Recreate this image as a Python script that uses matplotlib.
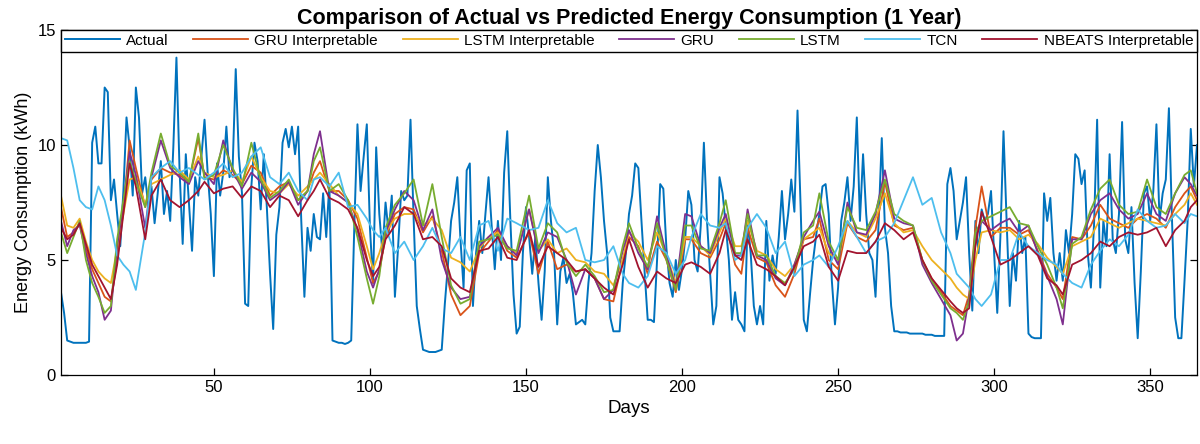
import numpy as np
import matplotlib.pyplot as plt

plt.rcParams['font.family'] = ['Liberation Sans', 'DejaVu Sans']

# daily measured consumption, days 1..365
days = np.arange(1, 366)
actual = [
    3.6, 2.7, 1.5, 1.45, 1.4, 1.4, 1.4, 1.4, 1.4, 1.45,
    10.1, 10.8, 9.2, 9.2, 12.5, 12.3, 7.6, 8.5, 7.0, 5.6,
    8.0, 11.2, 9.9, 7.8, 12.5, 11.2, 7.9, 8.6, 7.3, 8.2,
    6.6, 7.9, 9.3, 7.0, 8.0, 6.7, 9.9, 13.8, 8.9, 5.7,
    9.6, 7.5, 5.4, 8.6, 7.8, 9.5, 11.1, 8.8, 7.0, 4.3,
    9.2, 7.8, 8.8, 10.8, 8.6, 9.0, 13.3, 9.5, 7.9, 3.1,
    3.0, 8.2, 10.1, 9.3, 7.2, 9.6, 7.2, 4.4, 2.0, 6.1,
    7.3, 10.1, 10.7, 9.9, 10.8, 9.6, 10.8, 6.7, 3.4, 6.4,
    5.4, 7.0, 6.0, 5.9, 7.9, 6.0, 8.3, 1.5, 1.45, 1.4,
    1.4, 1.35, 1.4, 1.5, 6.5, 10.9, 8.0, 9.5, 10.9, 6.4,
    4.0, 9.9, 7.0, 5.3, 7.5, 6.2, 7.8, 3.4, 5.5, 8.0,
    7.6, 7.8, 11.1, 6.8, 3.0, 2.0, 1.1, 1.05, 1.0, 1.0,
    1.0, 1.05, 1.1, 3.1, 4.8, 6.7, 7.5, 8.6, 5.9, 3.8,
    8.9, 9.2, 3.0, 5.3, 6.7, 5.3, 7.0, 8.6, 6.5, 4.6,
    6.7, 5.0, 8.8, 10.6, 6.7, 3.5, 1.8, 2.1, 5.3, 7.3,
    6.0, 4.4, 6.0, 4.0, 2.4, 4.5, 8.6, 6.7, 5.3, 2.2,
    4.5, 5.1, 4.0, 4.4, 3.6, 2.2, 2.3, 2.4, 2.2, 4.0,
    5.3, 8.0, 10.0, 8.6, 6.7, 5.3, 2.5, 1.9, 1.9, 1.9,
    4.0, 5.3, 7.0, 7.8, 9.2, 9.0, 6.7, 4.5, 2.4, 2.4,
    2.3, 5.0, 8.3, 8.1, 5.5, 4.0, 3.4, 5.0, 3.7, 4.6,
    5.9, 8.0, 7.4, 5.0, 4.5, 6.5, 10.1, 6.7, 4.4, 2.2,
    3.0, 8.6, 7.9, 6.5, 5.0, 2.4, 3.6, 2.4, 2.2, 1.9,
    6.7, 5.3, 3.0, 2.2, 3.0, 2.2, 6.7, 4.1, 5.2, 4.4,
    6.0, 8.0, 5.9, 7.0, 8.5, 7.1, 11.5, 7.3, 2.4, 1.9,
    3.5, 5.0, 6.1, 7.0, 8.2, 8.3, 7.0, 4.1, 2.2, 3.8,
    6.7, 7.5, 8.6, 6.7, 8.2, 11.2, 6.7, 9.6, 7.0, 5.3,
    5.0, 3.4, 6.7, 10.3, 6.4, 5.3, 3.0, 1.9, 1.9, 1.85,
    1.85, 1.85, 1.8, 1.8, 1.8, 1.8, 1.8, 1.75, 1.75, 1.75,
    1.7, 1.7, 1.7, 1.7, 8.3, 9.0, 8.0, 5.9, 6.7, 7.5,
    8.6, 5.3, 2.8, 6.7, 5.3, 7.2, 6.7, 7.0, 8.0, 5.3,
    2.7, 6.0, 10.6, 6.7, 3.0, 5.3, 4.1, 6.7, 5.3, 6.0,
    1.8, 1.65, 1.6, 1.6, 1.6, 7.9, 6.7, 7.7, 5.3, 4.1,
    5.3, 4.1, 6.3, 5.3, 7.0, 9.6, 9.4, 8.3, 8.9, 5.3,
    3.8, 6.5, 11.1, 3.8, 6.7, 5.6, 9.6, 5.9, 5.3, 7.0,
    11.0, 5.9, 5.3, 7.3, 4.0, 1.6, 4.5, 7.9, 8.2, 6.7,
    8.0, 10.9, 6.7, 7.9, 8.5, 11.6, 6.7, 2.5, 1.6, 1.6,
    4.1, 6.7, 10.7, 8.2, 10.0,
]

pred_days = [
    1, 3, 5, 7, 9, 11, 13, 15, 17, 19,
    21, 23, 25, 28, 30, 33, 36, 39, 42, 45,
    47, 50, 53, 56, 59, 62, 65, 68, 71, 74,
    77, 80, 82, 84, 87, 90, 93, 96, 99, 101,
    103, 105, 108, 111, 114, 117, 120, 123, 126, 129,
    132, 135, 138, 141, 144, 147, 151, 154, 157, 160,
    163, 166, 169, 172, 175, 178, 181, 183, 186, 189,
    192, 195, 198, 201, 203, 206, 209, 212, 214, 217,
    219, 221, 224, 227, 230, 233, 236, 239, 242, 244,
    247, 250, 253, 256, 259, 262, 265, 268, 271, 274,
    277, 280, 283, 286, 288, 290, 292, 294, 296, 299,
    302, 305, 308, 311, 314, 317, 320, 322, 325, 328,
    331, 334, 337, 340, 343, 346, 349, 352, 355, 358,
    361, 363, 365,
]

gru_interp = [
    7.3, 6.0, 6.2, 6.6, 5.5, 4.6, 4.0, 3.4, 3.2, 5.0,
    7.2, 10.2, 9.0, 7.3, 8.5, 9.0, 8.8, 8.7, 8.4, 10.3,
    8.6, 8.5, 8.9, 8.7, 8.3, 9.1, 8.8, 7.8, 8.2, 8.4,
    7.6, 8.0, 8.8, 9.3, 8.0, 8.0, 7.6, 6.8, 5.1, 4.0,
    4.5, 6.0, 7.0, 7.3, 7.2, 6.2, 6.9, 5.4, 3.5, 2.6,
    3.0, 5.3, 5.8, 6.3, 5.4, 5.1, 6.2, 4.4, 5.8, 4.6,
    4.8, 4.5, 4.6, 4.2, 3.3, 3.2, 5.0, 6.0, 5.6, 4.4,
    5.8, 5.0, 3.6, 5.9, 5.9, 5.3, 5.1, 5.9, 6.6, 4.8,
    4.4, 6.4, 5.1, 4.9, 3.9, 3.4, 4.4, 5.9, 6.0, 6.8,
    5.0, 4.6, 6.6, 6.0, 5.8, 6.3, 8.4, 6.5, 6.3, 6.4,
    5.0, 4.2, 3.6, 3.0, 2.8, 2.6, 3.5, 6.4, 8.2, 6.0,
    6.4, 6.4, 6.1, 6.3, 5.4, 4.4, 3.8, 3.3, 6.0, 5.9,
    6.5, 7.4, 6.8, 6.6, 6.4, 6.8, 7.0, 6.8, 6.4, 7.3,
    7.9, 8.2, 7.6,
]

lstm_interp = [
    7.8, 6.5, 6.4, 6.8, 5.8, 5.0, 4.5, 4.2, 4.0, 5.5,
    7.0, 8.5, 8.6, 7.4, 8.3, 8.5, 8.7, 8.9, 8.5, 9.5,
    8.8, 8.6, 8.7, 8.9, 8.4, 9.5, 8.6, 8.0, 7.9, 8.3,
    7.8, 8.2, 8.5, 8.8, 8.3, 7.8, 7.5, 7.0, 5.6, 4.6,
    5.3, 6.2, 6.8, 7.0, 7.0, 6.5, 6.8, 6.3, 5.1, 4.9,
    4.5, 5.5, 6.0, 6.2, 5.6, 5.3, 7.2, 5.4, 5.9, 5.3,
    5.5, 5.0, 4.9, 4.5, 4.4, 3.9, 5.0, 6.2, 5.8, 5.0,
    6.2, 5.2, 4.0, 6.0, 6.0, 5.6, 5.2, 6.2, 6.8, 5.6,
    5.6, 6.7, 5.4, 5.2, 4.6, 4.3, 4.8, 5.9, 6.2, 6.4,
    5.3, 5.0, 6.7, 6.2, 6.0, 6.8, 7.9, 6.6, 6.2, 6.3,
    5.6, 5.0, 4.6, 4.2, 3.8, 3.5, 3.3, 5.0, 6.2, 6.3,
    6.2, 6.3, 5.9, 6.1, 5.7, 5.1, 4.7, 4.4, 5.6, 5.8,
    6.0, 6.8, 6.6, 6.4, 6.6, 6.8, 6.7, 6.6, 6.5, 7.0,
    7.4, 7.9, 7.4,
]

gru = [
    6.7, 5.6, 6.3, 6.5, 5.3, 4.3, 3.6, 2.4, 2.8, 5.6,
    7.4, 9.7, 8.7, 6.4, 8.6, 10.2, 9.0, 8.6, 8.3, 9.3,
    8.8, 8.3, 10.2, 8.9, 8.1, 8.8, 8.4, 7.6, 7.9, 8.4,
    7.4, 8.0, 9.6, 10.6, 8.0, 7.8, 7.5, 6.3, 4.5, 3.8,
    4.6, 6.2, 7.2, 8.0, 7.6, 6.3, 7.2, 5.0, 3.8, 3.3,
    3.4, 5.6, 6.0, 6.4, 5.6, 5.2, 7.2, 5.3, 6.2, 6.0,
    5.0, 3.5, 4.6, 4.2, 3.3, 3.7, 5.4, 6.3, 5.3, 4.6,
    6.9, 5.2, 3.8, 7.0, 6.9, 5.6, 5.3, 6.4, 7.0, 5.2,
    5.2, 7.2, 5.2, 5.0, 4.2, 3.9, 4.8, 6.0, 6.7, 7.1,
    5.6, 4.8, 7.5, 6.2, 6.1, 7.0, 8.9, 6.8, 6.6, 6.5,
    4.8, 4.0, 3.3, 2.6, 1.5, 1.8, 3.4, 6.0, 6.7, 6.3,
    6.6, 6.8, 6.2, 6.5, 5.3, 4.3, 3.3, 2.2, 5.9, 5.9,
    7.0, 7.6, 7.9, 7.2, 6.8, 7.0, 7.9, 7.0, 6.7, 7.9,
    8.6, 8.3, 7.8,
]

lstm = [
    6.2, 5.3, 6.0, 6.7, 5.0, 4.0, 3.4, 2.7, 3.0, 5.9,
    7.6, 9.3, 8.4, 7.3, 8.8, 10.5, 9.1, 8.8, 8.4, 10.5,
    8.5, 8.7, 10.0, 9.0, 8.2, 10.1, 8.5, 7.7, 8.0, 8.5,
    7.6, 8.0, 9.3, 9.9, 8.0, 8.3, 7.6, 6.0, 4.2, 3.1,
    4.3, 6.4, 7.4, 7.9, 8.5, 6.5, 8.3, 6.0, 3.9, 3.1,
    3.3, 5.8, 5.9, 6.1, 5.5, 5.4, 7.8, 5.5, 6.6, 6.2,
    4.9, 4.3, 4.8, 4.3, 3.6, 3.7, 5.6, 6.6, 5.5, 4.7,
    6.6, 5.0, 3.7, 6.5, 6.5, 5.5, 5.4, 6.6, 7.6, 5.3,
    5.3, 7.0, 5.2, 5.2, 4.3, 4.0, 4.6, 6.2, 6.5, 7.9,
    5.8, 5.0, 7.3, 6.4, 6.3, 7.1, 8.5, 7.0, 6.7, 6.5,
    5.0, 4.1, 3.5, 2.9, 2.7, 2.4, 3.2, 6.2, 6.7, 6.9,
    7.1, 7.3, 6.6, 6.5, 5.6, 4.8, 3.8, 2.9, 5.7, 6.0,
    7.2, 8.1, 8.5, 7.4, 7.0, 7.1, 8.5, 7.3, 7.0, 7.9,
    8.7, 8.9, 7.9,
]

tcn = [
    10.3, 10.2, 9.0, 7.6, 7.3, 7.2, 8.2, 7.6, 6.5, 5.2,
    4.8, 4.5, 3.7, 6.2, 8.6, 9.0, 9.3, 8.8, 9.0, 8.7,
    8.5, 8.8, 9.2, 8.6, 8.8, 9.5, 9.9, 8.6, 8.3, 8.8,
    8.0, 7.6, 8.5, 8.6, 8.2, 8.8, 7.3, 7.4, 6.8, 6.3,
    6.0, 6.4, 5.3, 5.8, 5.0, 5.6, 6.4, 5.5, 5.3, 6.0,
    5.0, 6.5, 6.7, 5.4, 6.8, 6.6, 6.3, 6.4, 7.6, 6.6,
    6.2, 6.4, 5.0, 4.9, 5.0, 5.6, 4.4, 4.0, 3.8, 4.3,
    5.6, 5.3, 4.4, 5.0, 6.0, 7.0, 6.5, 6.4, 6.6, 5.0,
    5.2, 6.4, 7.0, 6.4, 5.3, 5.8, 4.3, 4.8, 5.0, 5.2,
    4.7, 5.6, 6.7, 6.0, 5.3, 5.8, 6.0, 6.6, 7.6, 8.6,
    7.4, 7.7, 6.2, 5.3, 4.4, 4.1, 3.8, 3.3, 3.0, 3.5,
    5.0, 5.0, 6.2, 5.6, 5.3, 5.0, 4.8, 4.4, 4.0, 3.8,
    4.8, 5.4, 5.9, 5.6, 6.1, 7.2, 6.7, 6.4, 6.5, 7.0,
    6.6, 7.0, 6.9,
]

nbeats_interp = [
    6.4, 5.9, 6.1, 6.6, 5.7, 4.8, 4.3, 3.8, 3.3, 4.8,
    7.0, 9.2, 8.2, 5.9, 7.8, 8.5, 7.6, 7.3, 7.6, 8.0,
    8.4, 7.9, 8.1, 8.2, 7.7, 8.2, 8.0, 7.3, 7.8, 7.6,
    6.9, 7.6, 8.0, 8.5, 7.7, 7.5, 7.2, 6.4, 5.0, 4.3,
    4.7, 5.9, 6.5, 7.3, 7.0, 5.9, 6.0, 5.6, 4.2, 3.8,
    3.6, 5.4, 5.5, 6.0, 5.1, 5.0, 6.3, 4.7, 5.6, 5.3,
    5.0, 4.5, 4.6, 4.2, 3.8, 3.5, 4.8, 5.9, 4.7, 3.8,
    4.5, 4.2, 4.0, 4.8, 4.9, 4.7, 4.4, 5.3, 6.3, 5.2,
    5.0, 5.9, 4.8, 4.6, 4.3, 3.9, 4.7, 5.6, 5.8, 6.1,
    4.7, 4.1, 5.4, 5.3, 5.3, 5.8, 6.6, 6.3, 5.9, 6.2,
    5.0, 4.2, 3.7, 3.2, 2.9, 2.7, 2.9, 5.6, 7.1, 6.0,
    4.8, 5.0, 5.3, 5.6, 5.2, 4.2, 3.9, 3.5, 4.8, 5.0,
    5.3, 5.8, 5.6, 6.0, 6.2, 6.1, 6.2, 6.4, 5.6, 6.3,
    6.7, 7.3, 7.6,
]

models = [
    ("GRU Interpretable", gru_interp, "#D95319"),
    ("LSTM Interpretable", lstm_interp, "#EDB120"),
    ("GRU", gru, "#7E2F8E"),
    ("LSTM", lstm, "#77AC30"),
    ("TCN", tcn, "#4DBEEE"),
    ("NBEATS Interpretable", nbeats_interp, "#A2142F"),
]

fig = plt.figure(figsize=(12, 4.44), dpi=100)
ax = fig.add_axes([0.0508, 0.1554, 0.9467, 0.777])

ax.plot(days, actual, color="#0072BD", lw=1.4, label="Actual")
for name, vals, col in models:
    ax.plot(pred_days, vals, color=col, lw=1.3, label=name)

ax.set_xlim(1, 365)
ax.set_ylim(0, 15)
ax.set_xticks([50, 100, 150, 200, 250, 300, 350])
ax.set_yticks([0, 5, 10, 15])
ax.tick_params(direction="in", top=True, right=True, labelsize=12, length=5, width=0.9)
for s in ax.spines.values():
    s.set_linewidth(0.9)

ax.set_xlabel("Days", fontsize=13.5)
ax.set_ylabel("Energy Consumption (kWh)", fontsize=13)
ax.set_title("Comparison of Actual vs Predicted Energy Consumption (1 Year)",
             fontweight="bold", fontsize=15.5, pad=4)

ax.legend(loc="upper center", ncol=7, mode="expand", bbox_to_anchor=(0, 0, 1, 1),
          borderaxespad=0, fancybox=False, edgecolor="black", framealpha=1,
          handlelength=3.6, handletextpad=0.4, borderpad=0.25, fontsize=11)

fig.savefig("out.png")
